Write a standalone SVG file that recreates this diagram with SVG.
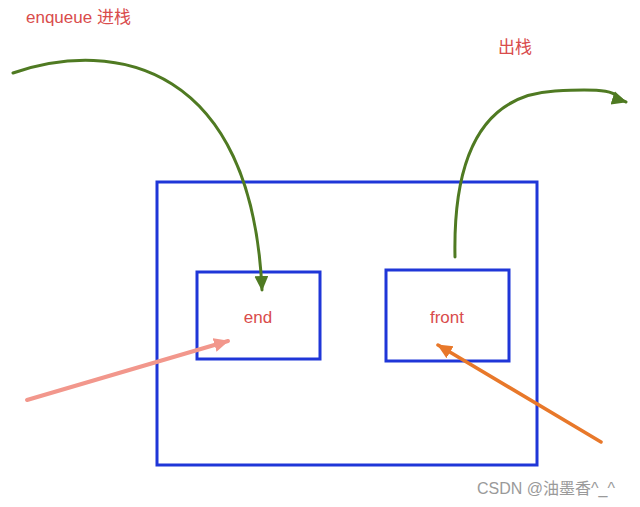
<svg xmlns="http://www.w3.org/2000/svg" width="640" height="507" viewBox="0 0 640 507">
<style>
.box{fill:none;stroke:#1f36d8;stroke-width:3}
.lbl{font-family:"Liberation Sans","Noto Sans CJK SC",sans-serif;font-size:17px;fill:#d94c4c}
.g{fill:none;stroke:#4f7a22;stroke-width:3;stroke-linecap:round}
.wm{font-family:"Liberation Sans","Noto Sans CJK SC",sans-serif;font-size:16px;fill:#9a9a9a}
</style>
<defs>
<marker id="ag" markerUnits="userSpaceOnUse" markerWidth="20" markerHeight="20" refX="14" refY="7" orient="auto"><path d="M0,0 L15,7 L0,14 Z" fill="#4f7a22"/></marker>
<marker id="ap" markerUnits="userSpaceOnUse" markerWidth="20" markerHeight="20" refX="14" refY="7" orient="auto"><path d="M0,0 L15,7 L0,14 Z" fill="#f2978c"/></marker>
<marker id="ao" markerUnits="userSpaceOnUse" markerWidth="20" markerHeight="20" refX="14" refY="7" orient="auto"><path d="M0,0 L15,7 L0,14 Z" fill="#e8782a"/></marker>
</defs>
<rect width="640" height="507" fill="#ffffff"/>
<g id="outer"><rect class="box" x="157" y="182" width="380" height="283"/></g>
<g id="end"><rect class="box" x="197" y="272" width="123" height="87"/><text class="lbl" x="258" y="323" text-anchor="middle">end</text></g>
<g id="front"><rect class="box" x="386" y="270" width="123" height="91"/><text class="lbl" x="447" y="323" text-anchor="middle">front</text></g>
<g id="label-enqueue"><text class="lbl" x="26" y="23">enqueue 进栈</text></g>
<g id="label-out"><text class="lbl" x="498" y="53">出栈</text></g>
<g id="connectors">
<path class="g" d="M13,73 C115,38 252,65 262,290" marker-end="url(#ag)"/>
<path class="g" d="M455,257 C453,160 480,95 555,91 S610,97 626,102" marker-end="url(#ag)"/>
<path d="M27,400 L228,341" fill="none" stroke="#f2978c" stroke-width="4" stroke-linecap="round" marker-end="url(#ap)"/>
<path d="M601,442 L438,345" fill="none" stroke="#e8782a" stroke-width="3.5" stroke-linecap="round" marker-end="url(#ao)"/>
</g>
<text class="wm" x="477" y="494">CSDN @油墨香^_^</text>
</svg>
